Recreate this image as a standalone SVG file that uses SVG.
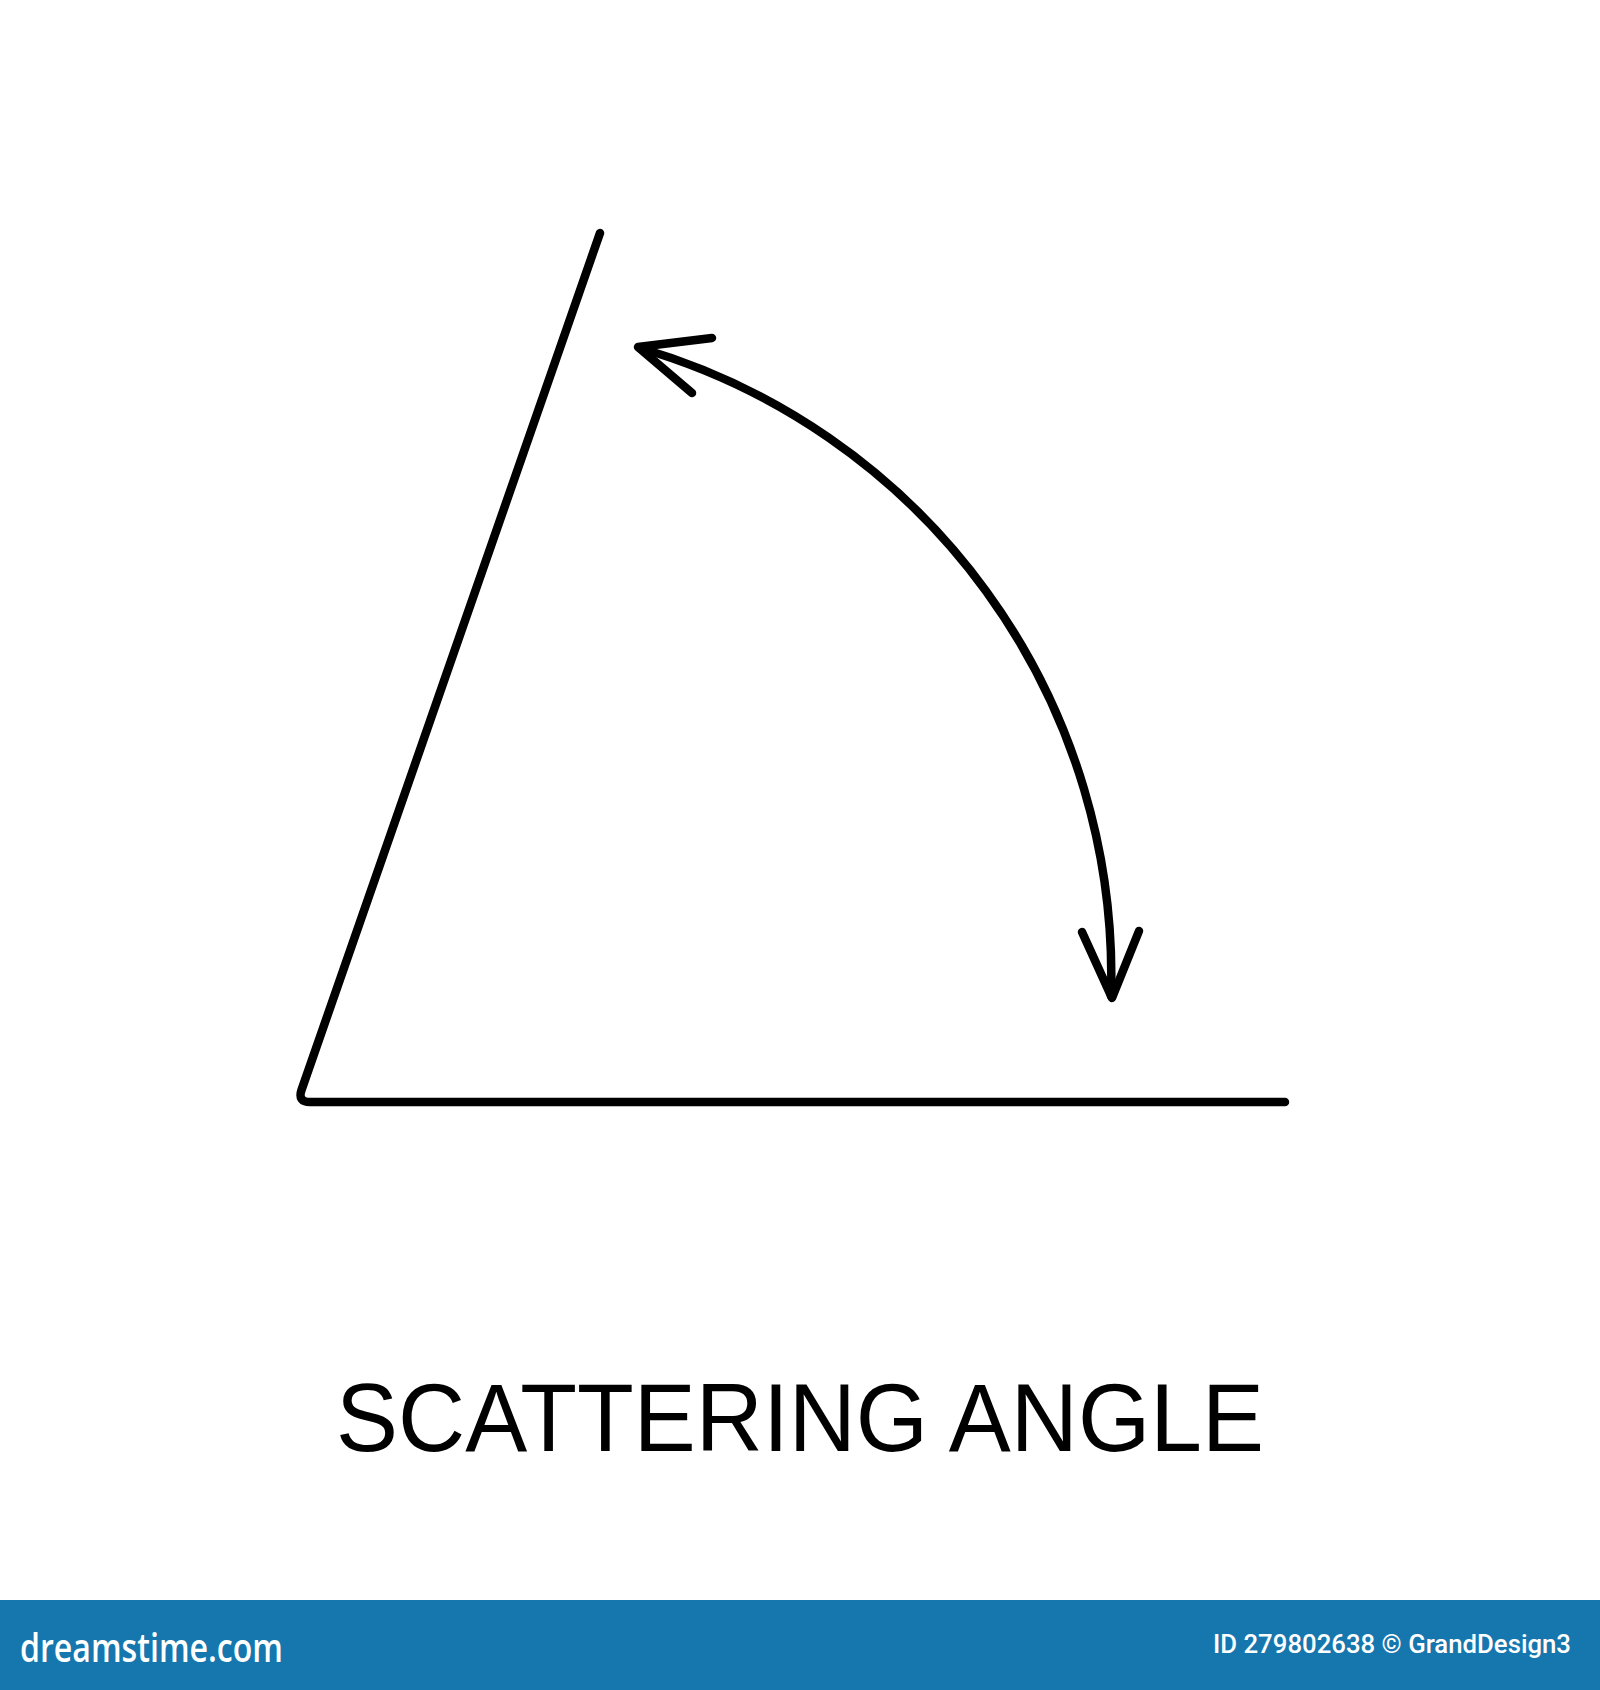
<svg xmlns="http://www.w3.org/2000/svg" width="1600" height="1690" viewBox="0 0 1600 1690">
<style>
.ln{fill:none;stroke:#000;stroke-width:8.5;stroke-linecap:round;stroke-linejoin:round}
.title{font-family:"Liberation Sans",Arial,sans-serif;font-size:97px;fill:#000}
.brand{font-family:"Open Sans","Liberation Sans",sans-serif;font-weight:600;font-size:40px;fill:#fff}
.credit{font-family:Roboto,"Liberation Sans",sans-serif;font-weight:500;font-size:25px;fill:#fff}
</style>
<rect width="1600" height="1690" fill="#fff"/>
<g id="angle">
<path class="ln" d="M600 233 L301.5 1090 Q297.5 1102 310 1102 L1285 1102"/>
</g>
<g id="connectors">
<path class="ln" d="M640 348 A654 654 0 0 1 1111 996"/>
<path class="ln" d="M712 338 L638 347 L692 393"/>
<path class="ln" d="M1082 932 L1112 998 L1139 931"/>
</g>
<g id="label">
<text class="title" x="336" y="1451" textLength="928" lengthAdjust="spacingAndGlyphs">SCATTERING ANGLE</text>
</g>
<g id="footer">
<rect x="0" y="1600" width="1600" height="90" fill="#1677ae"/>
<text class="brand" x="20" y="1662" textLength="263" lengthAdjust="spacingAndGlyphs">dreamstime.com</text>
<text class="credit" x="1213" y="1653" textLength="358" lengthAdjust="spacingAndGlyphs">ID 279802638 © GrandDesign3</text>
</g>
</svg>
